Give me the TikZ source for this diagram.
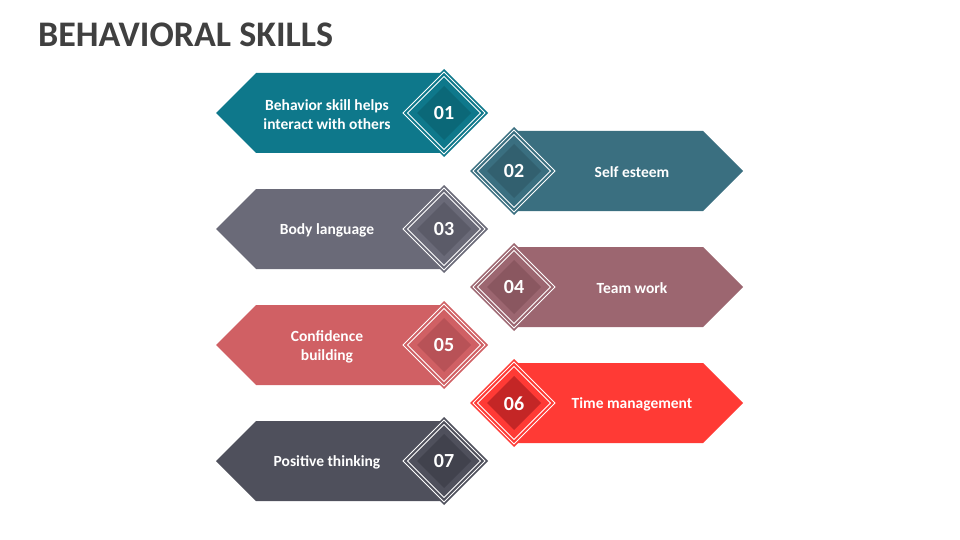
\documentclass[tikz,border=0pt]{standalone}
\usepackage{fontspec}
\setmainfont{Carlito}
\definecolor{cA}{HTML}{0E788B}\definecolor{dA}{HTML}{0B6878}
\definecolor{cB}{HTML}{3A6F80}\definecolor{dB}{HTML}{32606F}
\definecolor{cC}{HTML}{6A6A78}\definecolor{dC}{HTML}{5B5B68}
\definecolor{cD}{HTML}{9C6670}\definecolor{dD}{HTML}{8A5760}
\definecolor{cE}{HTML}{D06064}\definecolor{dE}{HTML}{B85257}
\definecolor{cF}{HTML}{FF3A35}\definecolor{dF}{HTML}{C42626}
\definecolor{cG}{HTML}{4F505C}\definecolor{dG}{HTML}{41424D}
\definecolor{titlegray}{HTML}{404040}
\tikzset{
  label text/.style={text=white,font=\fontsize{15.5}{19}\selectfont\bfseries,align=center},
  num text/.style={text=white,font=\fontsize{20}{22}\selectfont\bfseries},
  wline/.style={draw=white,line width=1pt}
}
\newcommand{\diamondbadge}[5]{% cx, cy, color, dark, name/num
  \fill[#3] ({#1-44},#2) -- (#1,{#2-44}) -- ({#1+44},#2) -- (#1,{#2+44}) -- cycle;
  \draw[wline] ({#1-41},#2) -- (#1,{#2-41}) -- ({#1+41},#2) -- (#1,{#2+41}) -- cycle;
  \draw[wline] ({#1-36.5},#2) -- (#1,{#2-36.5}) -- ({#1+36.5},#2) -- (#1,{#2+36.5}) -- cycle;
  \fill[#4] ({#1-27},#2) -- (#1,{#2-27}) -- ({#1+27},#2) -- (#1,{#2+27}) -- cycle;
  \node[num text] (n#5) at (#1,{#2+0.5}) {#5};
}
\newcommand{\leftrow}[5]{% y, color, dark, num, text
  \fill[#2] (216,#1) -- (256,{#1-40}) -- (444,{#1-40}) -- (444,{#1+40}) -- (256,{#1+40}) -- cycle;
  \node[label text] (t#4) at (327,{#1+1.5}) {#5};
  \diamondbadge{444}{#1}{#2}{#3}{#4}
}
\newcommand{\rightrow}[5]{% y, color, dark, num, text
  \fill[#2] (514,{#1-40}) -- (703,{#1-40}) -- (743,#1) -- (703,{#1+40}) -- (514,{#1+40}) -- cycle;
  \node[label text] (t#4) at (632,{#1+1.5}) {#5};
  \diamondbadge{514}{#1}{#2}{#3}{#4}
}
\begin{document}
\begin{tikzpicture}[x=1pt,y=-1pt]
\useasboundingbox (0,0) rectangle (960,540);
\node[anchor=west,text=titlegray,font=\fontsize{36}{40}\selectfont\bfseries,inner sep=0] (title) at (38,35) {BEHAVIORAL SKILLS};
\leftrow{113}{cA}{dA}{01}{Behavior skill helps\\interact with others}
\rightrow{171}{cB}{dB}{02}{Self esteem}
\leftrow{229}{cC}{dC}{03}{Body language}
\rightrow{287}{cD}{dD}{04}{Team work}
\leftrow{345}{cE}{dE}{05}{Confidence\\building}
\rightrow{403}{cF}{dF}{06}{Time management}
\leftrow{461}{cG}{dG}{07}{Positive thinking}
\end{tikzpicture}
\end{document}
